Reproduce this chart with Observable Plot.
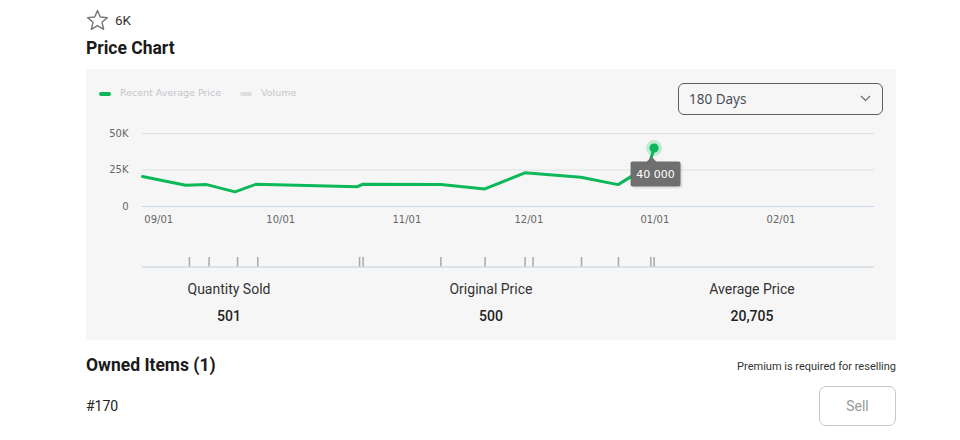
<!DOCTYPE html>
<html>
<head>
<meta charset="utf-8">
<script src="https://cdn.jsdelivr.net/npm/d3@7"></script>
<script src="https://cdn.jsdelivr.net/npm/@observablehq/plot@0.6"></script>
<style>
  html, body { margin: 0; padding: 0; background: #fff; }
  #page { position: relative; width: 960px; height: 440px; overflow: hidden; font-family: Roboto, "Noto Sans", sans-serif; color: #222; }
  .abs { position: absolute; }
  #card { left: 86px; top: 69px; width: 810px; height: 271px; background: #f6f6f6; }
  .legend { font-family: "DejaVu Sans", sans-serif; font-size: 9.5px; color: #c3c6cc; }
  .pill { position: absolute; width: 12px; height: 4px; border-radius: 2px; }
  #dropdown { left: 678px; top: 83px; border: 1px solid #5a5e66; border-radius: 6px; box-sizing: border-box; width: 205px; height: 32px; }
  .stat { position: absolute; width: 200px; text-align: center; }
</style>
</head>
<body>
<div id="page">
  <svg class="abs" style="left:86px;top:9px" width="23" height="22" viewBox="0 0 24 23">
    <polygon points="12,1.5 14.9,8.4 22.3,9 16.7,13.9 18.4,21.2 12,17.3 5.6,21.2 7.3,13.9 1.7,9 9.1,8.4" fill="none" stroke="#777" stroke-width="1.5" stroke-linejoin="round"/>
  </svg>
  <div class="abs" id="likes" style="left:115px;top:12px;font-size:13.5px;color:#333"></div>
  <div class="abs" id="title" style="left:86px;top:38px;font-size:17.5px;font-weight:700;color:#1a1a1a"></div>
  <div class="abs" id="card"></div>
  <div id="legend"></div>
  <div class="abs" id="dropdown">
    <div class="abs" id="range" style="left:10px;top:6px;font-family:'Noto Sans',sans-serif;font-size:13.5px;color:#4a4f57"></div>
    <svg class="abs" style="left:181px;top:11px" width="11" height="7"><polyline points="1,1 5.5,5.5 10,1" fill="none" stroke="#666" stroke-width="1.1"/></svg>
  </div>
  <div id="pricePlot" class="abs" style="left:86px;top:120px"></div>
  <div id="volumePlot" class="abs" style="left:86px;top:250px"></div>
  <div id="stats"></div>
  <div class="abs" id="owned" style="left:86px;top:355px;font-size:17.5px;font-weight:700;color:#1a1a1a"></div>
  <div class="abs" id="premium" style="right:64px;top:360px;font-size:11px;color:#333"></div>
  <div class="abs" id="itemId" style="left:86px;top:398px;font-size:14px;color:#222"></div>
  <div class="abs" id="sell" style="left:819px;top:386px;width:77px;height:40px;border:1px solid #c8c8c8;border-radius:7px;box-sizing:border-box;text-align:center;line-height:39px;font-size:14px;color:#9a9a9a"></div>
</div>
<script>
// ---- Data ----
const likes = "6K";
const chartTitle = "Price Chart";
const rangeLabel = "180 Days";
const legendLabels = ["Recent Average Price", "Volume"];
const legendColors = ["#0cb858", "#dedede"];

const xDomain = ["2022-08-28", "2023-02-24"];
const xTickDates = ["2022-09-01", "2022-10-01", "2022-11-01", "2022-12-01", "2023-01-01", "2023-02-01"];
const yTicks = [0, 25000, 50000];

const priceDates = [
  "2022-08-28T00:00Z", "2022-09-07T15:00Z", "2022-09-12T19:00Z", "2022-09-19T18:00Z",
  "2022-09-24T21:00Z", "2022-10-19T21:00Z", "2022-10-21T02:00Z", "2022-11-09T09:00Z",
  "2022-11-20T04:00Z", "2022-11-30T00:00Z", "2022-12-13T19:00Z", "2022-12-22T23:00Z",
  "2022-12-30T12:00Z", "2022-12-31T19:00Z"
];
const priceValues = [20500, 14500, 15000, 10000, 15200, 13600, 15200, 15000, 12000, 23100, 20000, 15000, 28000, 40000];

const volumeDates = [
  "2022-09-08T13:00Z", "2022-09-13T09:00Z", "2022-09-20T09:00Z", "2022-09-25T08:00Z",
  "2022-10-20T09:00Z", "2022-10-21T06:00Z", "2022-11-09T09:00Z", "2022-11-20T06:00Z",
  "2022-11-30T02:00Z", "2022-12-02T01:00Z", "2022-12-13T23:00Z", "2022-12-23T01:00Z",
  "2022-12-31T00:00Z", "2022-12-31T19:00Z"
];

const statLabels = ["Quantity Sold", "Original Price", "Average Price"];
const statValues = ["501", "500", "20,705"];

const ownedTitle = "Owned Items (1)";
const premiumNote = "Premium is required for reselling";
const itemId = "#170";
const sellLabel = "Sell";

// ---- Build ----
const green = legendColors[0];
const parse = s => new Date(s);
const price = priceDates.map((d, i) => ({date: parse(d), value: priceValues[i]}));
const volume = volumeDates.map(d => ({date: parse(d)}));
const xDom = xDomain.map(d => new Date(d + "T00:00Z"));
const xTicks = xTickDates.map(d => new Date(d + "T00:00Z"));
const spaceFmt = d3.formatLocale({decimal: ".", thousands: " ", grouping: [3], currency: ["", ""]}).format(",");

document.getElementById("likes").textContent = likes;
document.getElementById("title").textContent = chartTitle;
document.getElementById("range").textContent = rangeLabel;
document.getElementById("owned").textContent = ownedTitle;
document.getElementById("premium").textContent = premiumNote;
document.getElementById("itemId").textContent = itemId;
document.getElementById("sell").textContent = sellLabel;

const legend = document.getElementById("legend");
const legendX = [[99, 120], [240, 261]];
legendLabels.forEach((lab, i) => {
  const p = document.createElement("div");
  p.className = "pill";
  p.style.left = legendX[i][0] + "px"; p.style.top = "92px"; p.style.background = legendColors[i];
  legend.appendChild(p);
  const t = document.createElement("div");
  t.className = "abs legend";
  t.style.left = legendX[i][1] + "px"; t.style.top = "87px";
  t.textContent = lab;
  legend.appendChild(t);
});

const stats = document.getElementById("stats");
const statCenters = [229, 491, 752];
statLabels.forEach((lab, i) => {
  const a = document.createElement("div");
  a.className = "stat"; a.style.left = (statCenters[i] - 100) + "px"; a.style.top = "281px";
  a.style.fontSize = "14px"; a.style.color = "#333"; a.textContent = lab;
  stats.appendChild(a);
  const b = document.createElement("div");
  b.className = "stat"; b.style.left = (statCenters[i] - 100) + "px"; b.style.top = "308px";
  b.style.fontSize = "14px"; b.style.fontWeight = "500"; b.style.color = "#222"; b.textContent = statValues[i];
  stats.appendChild(b);
});

const last = price[price.length - 1];

function tooltip(index, scales) {
  const px = scales.x(last.date), py = scales.y(last.value);
  const g = d3.create("svg:g");
  g.append("rect").attr("x", px - 22).attr("y", py + 15).attr("width", 50).attr("height", 25)
    .attr("rx", 2).attr("fill", "#000").attr("opacity", 0.08).attr("transform", "translate(1,1)");
  g.append("rect").attr("x", px - 23).attr("y", py + 14).attr("width", 50).attr("height", 25)
    .attr("rx", 2).attr("fill", "#6f6f6f");
  g.append("polygon").attr("points", `${px - 7},${py + 14.5} ${px - 2},${py + 9} ${px + 3},${py + 14.5}`).attr("fill", "#6f6f6f");
  g.append("text").attr("x", px + 2).attr("y", py + 27).attr("text-anchor", "middle").attr("dy", "0.35em")
    .attr("fill", "#fff").attr("font-size", 11).attr("font-family", "DejaVu Sans, sans-serif")
    .text(spaceFmt(last.value));
  return g.node();
}

const pricePlot = Plot.plot({
  width: 810, height: 110,
  marginLeft: 56, marginRight: 22, marginTop: 13, marginBottom: 24,
  style: {background: "transparent", fontFamily: "DejaVu Sans, sans-serif", fontSize: "10px", color: "#666", overflow: "visible"},
  x: {type: "utc", domain: xDom, ticks: xTicks, tickFormat: d3.utcFormat("%m/%d"), tickSize: 0, tickPadding: 9, label: null},
  y: {domain: [0, 50000], ticks: yTicks, tickFormat: d => d === 0 ? "0" : (d / 1000) + "K", tickSize: 0, tickPadding: 14, label: null},
  marks: [
    Plot.ruleY(yTicks.filter(d => d !== 0), {stroke: "#dfe0e4", strokeWidth: 1}),
    Plot.ruleY([0], {stroke: "#c9d7ea", strokeWidth: 1.2}),
    Plot.line(price, {x: "date", y: "value", stroke: green, strokeWidth: 3, strokeLinejoin: "round"}),
    Plot.dot([last], {x: "date", y: "value", r: 8, fill: green, fillOpacity: 0.22, stroke: "none"}),
    Plot.dot([last], {x: "date", y: "value", r: 4.6, fill: green, stroke: "none"}),
    tooltip
  ]
});
document.getElementById("pricePlot").appendChild(pricePlot);

const volumePlot = Plot.plot({
  width: 810, height: 20,
  marginLeft: 56, marginRight: 22, marginTop: 7, marginBottom: 3.5,
  style: {background: "transparent"},
  x: {type: "utc", domain: xDom, axis: null},
  y: {domain: [0, 1], axis: null},
  marks: [
    Plot.ruleY([0], {stroke: "#d3dbe6", strokeWidth: 1.5}),
    Plot.ruleX(volume, {x: "date", y1: 0, y2: 1, stroke: "#a8a8a8", strokeWidth: 1.5})
  ]
});
document.getElementById("volumePlot").appendChild(volumePlot);
</script>
</body>
</html>
